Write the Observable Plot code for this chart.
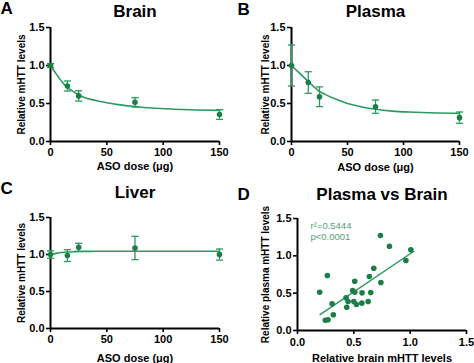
<!DOCTYPE html>
<html><head><meta charset="utf-8">
<script src="https://cdn.jsdelivr.net/npm/d3@7"></script>
<script src="https://cdn.jsdelivr.net/npm/@observablehq/plot@0.6"></script>
<style>
body{margin:0;background:#fff}
#wrap{position:relative;width:474px;height:363px;overflow:hidden;background:#fff}
#wrap svg{position:absolute}
</style>
</head><body><div id="wrap"></div>
<script>
// ---- data ----
const doses = [0, 15, 25, 75, 150];
const brainMean = [1.0, 0.73, 0.60, 0.515, 0.355];
const brainErr = [0.025, 0.066, 0.068, 0.062, 0.064];
const plasmaMean = [1.0, 0.776, 0.589, 0.458, 0.314];
const plasmaErr = [0.27, 0.142, 0.13, 0.087, 0.074];
const liverMean = [1.0, 0.985, 1.097, 1.088, 0.999];
const liverErr = [0.05, 0.08, 0.055, 0.157, 0.075];

const fitX = [0, 5, 10, 15, 20, 25, 30, 40, 50, 60, 75, 90, 110, 130, 150];
const brainFit = [1.0, 0.89, 0.79, 0.71, 0.66, 0.615, 0.58, 0.54, 0.51, 0.485, 0.46, 0.44, 0.425, 0.415, 0.41];
const plasmaFit = [1.0, 0.93, 0.86, 0.79, 0.72, 0.66, 0.62, 0.555, 0.5, 0.465, 0.425, 0.4, 0.385, 0.375, 0.37];
const liverFit = [1.0, 1.015, 1.026, 1.033, 1.038, 1.04, 1.042, 1.043, 1.043, 1.043, 1.043, 1.043, 1.043, 1.043, 1.043];

const brainLevels = [0.736,0.816,1.006,0.962,0.677,0.265,0.638,0.508,0.74,0.197,0.49,0.508,0.573,0.65,0.431,0.449,0.5,0.523,0.571,0.627,0.307,0.437,0.318,0.247,0.271];
const plasmaLevels = [1.272,1.129,1.08,0.937,0.834,0.736,0.723,0.66,0.643,0.513,0.535,0.513,0.504,0.509,0.437,0.388,0.388,0.348,0.366,0.388,0.357,0.312,0.21,0.138,0.143];
const regX = [0.2, 1.03];
const regY = [0.214, 1.058];

const doseTicks = [0, 50, 100, 150];
const levelTicks = [0, 0.5, 1.0, 1.5];

// ---- styling ----
const dotGreen = "#1c7d46";
const lineGreen = "#2b9a5f";
const txtGreen = "#55a276";
const FONT = "'Liberation Sans', Arial, sans-serif";
const cap = {draw(ctx, size) { const r = Math.sqrt(size / Math.PI); ctx.moveTo(-r, 0); ctx.lineTo(r, 0); }};
const wrap = document.getElementById("wrap");

function panel(o) {
  const mL = o.fx[0] - o.left, mR = o.left + o.w - o.fx[1];
  const mT = o.fy[0] - o.top, mB = o.top + o.h - o.fy[1];
  const marks = [
    Plot.axisY({ticks: levelTicks, tickFormat: d3.format(".1f"), tickSize: 4, tickPadding: 2, label: null, strokeWidth: 1.6}),
    Plot.axisX({ticks: o.xTicks, tickFormat: o.xFormat, tickSize: 4, tickPadding: o.xPad, label: null, strokeWidth: 1.6}),
    Plot.ruleY([0], {stroke: "black", strokeWidth: 2}),
    Plot.ruleX([0], {stroke: "black", strokeWidth: 2}),
    Plot.text([o.title], {text: d => d, frameAnchor: "top", dy: o.titleY - o.fy[0], textAnchor: "middle", fontSize: 17, fontWeight: "bold", lineAnchor: "middle"}),
    Plot.text([o.letter], {text: d => d, frameAnchor: "top-left", dx: o.letterX - o.fx[0], dy: o.letterY - o.fy[0], textAnchor: "start", fontSize: 17, fontWeight: "bold", lineAnchor: "middle"}),
    Plot.text([o.ylabel], {text: d => d, frameAnchor: "left", rotate: -90, dx: o.ylabelX - o.fx[0], textAnchor: "middle", lineAnchor: "middle", fontSize: 10, fontWeight: "bold"}),
    Plot.text([o.xlabel], {text: d => d, frameAnchor: "bottom", dy: o.xlabelY - o.fy[1], textAnchor: "middle", fontSize: 11, fontWeight: "bold", lineAnchor: "middle"}),
    ...o.marks
  ];
  const svg = Plot.plot({
    width: o.w, height: o.h,
    marginLeft: mL, marginRight: mR, marginTop: mT, marginBottom: mB,
    x: {domain: o.xDomain}, y: {domain: [0, 1.5]},
    style: {fontFamily: FONT, fontSize: "11px", fontWeight: "bold", color: "black", background: "transparent", overflow: "visible"},
    marks
  });
  svg.style.left = o.left + "px";
  svg.style.top = o.top + "px";
  wrap.appendChild(svg);
}

function doseMarks(mean, err, fit) {
  const rows = doses.map((d, i) => ({dose: d, mean: mean[i], lo: mean[i] - err[i], hi: mean[i] + err[i]}));
  const curve = fitX.map((x, i) => ({x, y: fit[i]}));
  return [
    Plot.line(curve, {x: "x", y: "y", curve: "monotone-x", stroke: lineGreen, strokeWidth: 1.6}),
    Plot.ruleX(rows, {x: "dose", y1: "lo", y2: "hi", stroke: lineGreen, strokeWidth: 1.3}),
    Plot.dot(rows, {x: "dose", y: "hi", symbol: cap, r: 3.6, fill: "none", stroke: lineGreen, strokeWidth: 1.3}),
    Plot.dot(rows, {x: "dose", y: "lo", symbol: cap, r: 3.6, fill: "none", stroke: lineGreen, strokeWidth: 1.3}),
    Plot.dot(rows, {x: "dose", y: "mean", r: 2.8, fill: dotGreen, stroke: "none"})
  ];
}

const common = {w: 237, xDomain: [0, 150], xTicks: doseTicks, xFormat: d3.format("d"), ylabel: "Relative mHTT levels", xlabel: "ASO dose (\u03bcg)"};

panel({...common, left: 0, top: 0, h: 181, fx: [50, 219], fy: [27, 141], xPad: 2.5,
  title: "Brain", titleY: 11, letter: "A", letterX: 0, letterY: 8, ylabelX: 21, xlabelY: 166,
  marks: doseMarks(brainMean, brainErr, brainFit)});

panel({...common, left: 237, top: 0, h: 181, fx: [291, 459], fy: [27, 141], xPad: 2.5,
  title: "Plasma", titleY: 11, letter: "B", letterX: 237, letterY: 9, ylabelX: 265, xlabelY: 166.5,
  marks: doseMarks(plasmaMean, plasmaErr, plasmaFit)});

panel({...common, left: 0, top: 181, h: 182, fx: [50, 219], fy: [217, 328], xPad: 3,
  title: "Liver", titleY: 192.5, letter: "C", letterX: 0, letterY: 188, ylabelX: 21, xlabelY: 358,
  marks: doseMarks(liverMean, liverErr, liverFit)});

const scatter = brainLevels.map((b, i) => ({b, p: plasmaLevels[i]}));
const reg = regX.map((x, i) => ({x, y: regY[i]}));
panel({w: 237, left: 237, top: 181, h: 182, fx: [297, 466], fy: [218, 330], xPad: 3.5,
  xDomain: [0, 1.5], xTicks: levelTicks, xFormat: d3.format(".1f"),
  title: "Plasma vs Brain", titleY: 194, letter: "D", letterX: 237, letterY: 194,
  ylabel: "Relative plasma mHTT levels", ylabelX: 265,
  xlabel: "Relative brain mHTT levels", xlabelY: 357.5,
  marks: [
    Plot.line(reg, {x: "x", y: "y", stroke: lineGreen, strokeWidth: 1.5}),
    Plot.dot(scatter, {x: "b", y: "p", r: 2.8, fill: dotGreen, stroke: "none"}),
    Plot.text(["r\u00b2=0.5444"], {text: d => d, frameAnchor: "top-left", dx: 13, dy: 7.5, textAnchor: "start", lineAnchor: "middle", fontSize: 9.5, fontWeight: "normal", fill: txtGreen}),
    Plot.text(["p<0.0001"], {text: d => d, frameAnchor: "top-left", dx: 13, dy: 18.5, textAnchor: "start", lineAnchor: "middle", fontSize: 9.5, fontWeight: "normal", fill: txtGreen})
  ]});
</script>
</body></html>
